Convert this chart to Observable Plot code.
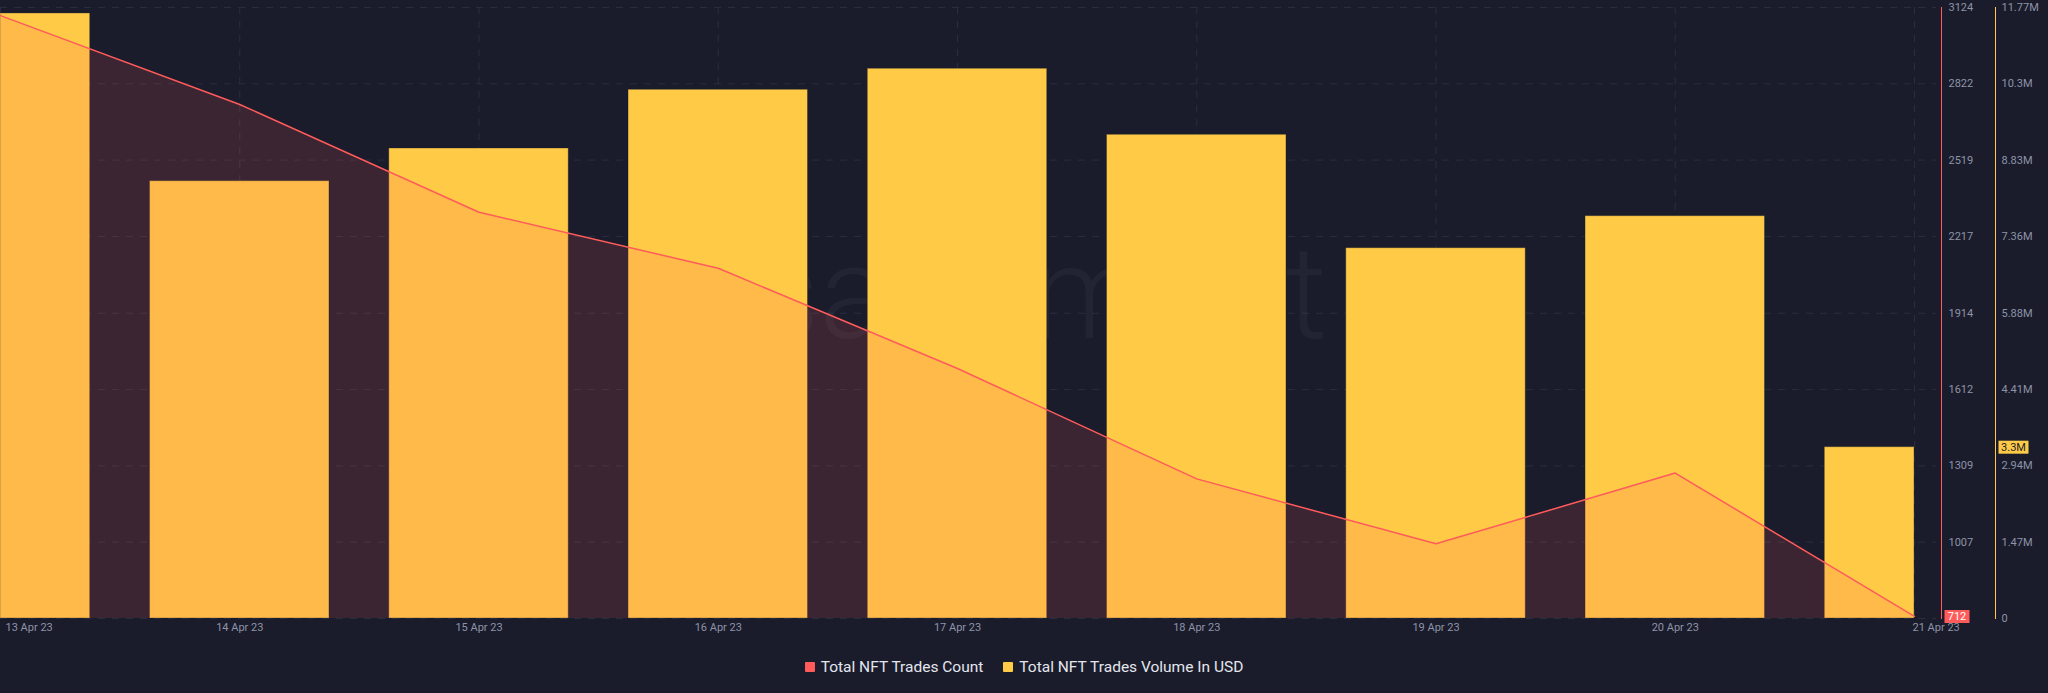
<!DOCTYPE html>
<html>
<head>
<meta charset="utf-8">
<script src="https://cdn.jsdelivr.net/npm/d3@7"></script>
<script src="https://cdn.jsdelivr.net/npm/@observablehq/plot@0.6"></script>
<style>
  html, body { margin: 0; padding: 0; background: #1a1c2b; }
  #chart { position: relative; width: 2048px; height: 645px; }
  #chart svg { position: absolute; left: 0; top: 0; }
  #legend {
    height: 44px; width: 2048px;
    display: flex; align-items: center; justify-content: center;
    font-family: Roboto, sans-serif; font-size: 15.5px; color: #e4e6ee;
  }
  .item { display: flex; align-items: center; margin: 0 10px; }
  .swatch { width: 10px; height: 10px; border-radius: 1px; margin-right: 6px; }
</style>
</head>
<body>
<div id="chart"></div>
<div id="legend"></div>
<script>
// Daily NFT trading activity, 13–21 April 2023
const dates = ["2023-04-13", "2023-04-14", "2023-04-15", "2023-04-16", "2023-04-17",
               "2023-04-18", "2023-04-19", "2023-04-20", "2023-04-21"];
const dateLabels = ["13 Apr 23", "14 Apr 23", "15 Apr 23", "16 Apr 23", "17 Apr 23",
                    "18 Apr 23", "19 Apr 23", "20 Apr 23", "21 Apr 23"];
const tradesCount = [3092, 2740, 2313, 2091, 1694, 1257, 1000, 1280, 712];
const volumeUSD = [11.655e6, 8.424e6, 9.054e6, 10.185e6, 10.59e6, 9.318e6, 7.133e6, 7.75e6, 3.3e6];

// Axis bounds and tick values of the two right-hand axes
const countDomain = [704, 3124];
const countTicks = [1007, 1309, 1612, 1914, 2217, 2519, 2822, 3124];
const volumeDomain = [0, 11.77e6];
const volumeTicks = [0, 1.47e6, 2.94e6, 4.41e6, 5.88e6, 7.36e6, 8.83e6, 10.3e6, 11.77e6];

const series = [
  {name: "Total NFT Trades Count", color: "#ff5b5b"},
  {name: "Total NFT Trades Volume In USD", color: "#ffcb47"}
];

const rows = dates.map((d, i) => ({
  date: new Date(d), count: tradesCount[i], volume: volumeUSD[i], label: dateLabels[i]
}));
const first = rows[0].date, last = rows[rows.length - 1].date;
const halfBar = 0.375 * 864e5;

const W = 2048, H = 645;
const RED = series[0].color, YELLOW = series[1].color;
const BG = "#1a1c2b", MUTED = "#8e93a8", GRID = "#2a2d40";
const xScale = {type: "utc", domain: [first, last], range: [0, 1914], axis: null};
const font = {fontFamily: "Roboto, sans-serif", fontSize: "11px"};
const tag = (w, h) => ({draw(ctx) { ctx.rect(-w / 2, -h / 2, w, h); }});

// Volume layer: grid, watermark, bars and the volume axis
const volumePlot = Plot.plot({
  width: W, height: H,
  marginLeft: 0, marginRight: 112, marginTop: 7, marginBottom: 27,
  style: {background: BG, color: MUTED, ...font},
  x: xScale,
  y: {domain: volumeDomain, axis: null, label: null},
  marks: [
    Plot.gridY(volumeTicks, {stroke: GRID, strokeOpacity: 1, strokeDasharray: "7,7"}),
    Plot.gridX(rows.map(d => d.date), {stroke: GRID, strokeOpacity: 1, strokeDasharray: "7,7"}),
    Plot.text(["santiment"], {
      frameAnchor: "middle", dx: 72, dy: -17, fontSize: 130, fontWeight: 300,
      fontFamily: "Roboto, sans-serif", fill: "#ffffff", fillOpacity: 0.04
    }),
    Plot.rectY(rows, {
      x1: d => new Date(Math.max(+d.date - halfBar, +first)),
      x2: d => new Date(Math.min(+d.date + halfBar, +last)),
      y: "volume", fill: YELLOW, stroke: BG, strokeOpacity: 0.35, strokeWidth: 1
    }),
    Plot.axisY(volumeTicks, {
      anchor: "right", label: null, tickSize: 0, tickPadding: 65, fill: MUTED,
      tickFormat: v => v === 0 ? "0" : `${+(v / 1e6).toFixed(2)}M`
    }),
    Plot.frame({anchor: "right", stroke: YELLOW, dx: 59}),
    Plot.text(rows.slice(1, -1), {x: "date", text: "label", frameAnchor: "bottom", dy: 12, fill: MUTED}),
    Plot.text(rows.slice(0, 1), {x: "date", text: "label", frameAnchor: "bottom", dy: 12, dx: 5, textAnchor: "start", fill: MUTED}),
    Plot.text(rows.slice(-1), {x: "date", text: "label", frameAnchor: "bottom", dy: 12, dx: -2, textAnchor: "start", fill: MUTED}),
    Plot.dot(rows.slice(-1), {y: "volume", frameAnchor: "right", dx: 77, symbol: tag(30, 13), fill: YELLOW}),
    Plot.text(rows.slice(-1), {
      y: "volume", frameAnchor: "right", dx: 77, fill: BG, textAnchor: "middle",
      text: d => `${d.volume / 1e6}M`
    })
  ]
});

// Count layer: shaded area, line and the count axis
const countPlot = Plot.plot({
  width: W, height: H,
  marginLeft: 0, marginRight: 107, marginTop: 7, marginBottom: 27,
  style: {background: "transparent", color: MUTED, ...font},
  x: xScale,
  y: {domain: countDomain, axis: null, label: null},
  marks: [
    Plot.areaY(rows, {x: "date", y: "count", fill: RED, fillOpacity: 0.15, clip: true}),
    Plot.lineY(rows, {x: "date", y: "count", stroke: RED, strokeWidth: 1.5}),
    Plot.axisY(countTicks, {anchor: "right", label: null, tickSize: 0, tickPadding: 7, fill: MUTED, tickFormat: d => String(d)}),
    Plot.frame({anchor: "right", stroke: RED}),
    Plot.dot(rows.slice(-1), {y: "count", frameAnchor: "right", dx: 15.5, symbol: tag(25, 13), fill: RED}),
    Plot.text(rows.slice(-1), {y: "count", frameAnchor: "right", dx: 15.5, fill: "#ffffff", textAnchor: "middle", text: d => String(d.count)})
  ]
});

const chart = document.getElementById("chart");
chart.append(volumePlot, countPlot);

const legend = document.getElementById("legend");
for (const s of series) {
  const item = document.createElement("div");
  item.className = "item";
  const sw = document.createElement("span");
  sw.className = "swatch";
  sw.style.background = s.color;
  const label = document.createElement("span");
  label.textContent = s.name;
  item.append(sw, label);
  legend.append(item);
}
</script>
</body>
</html>
